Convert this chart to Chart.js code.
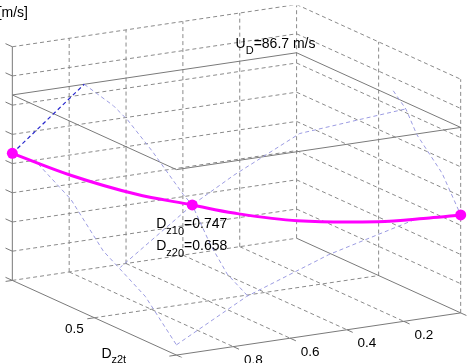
<!DOCTYPE html>
<html><head><meta charset="utf-8">
<script src="https://cdn.jsdelivr.net/npm/chart.js@4.4.0/dist/chart.umd.min.js"></script>
<style>html,body{margin:0;padding:0;background:#fff;overflow:hidden}canvas{display:block}</style>
</head><body>
<canvas id="c" width="474" height="363"></canvas>
<script>
// ---------------- data ----------------
const dz1Ticks = [0, 0.2, 0.4, 0.6, 0.8, 1];
const dz1TickLabels = ['0', '0.2', '0.4', '0.6', '0.8', '1'];
const dz2Ticks = [0, 0.5, 1];
const dz2TickLabels = ['0', '0.5', '1'];
const uTicks = [74, 76, 78, 80, 82, 84, 86, 88, 90];
const uDesign = 86.7;
const optDz1 = 0.747, optDz2 = 0.658;

// magenta optimum path
const pathDz1 = [1, 0.917, 0.827, 0.747, 0.631, 0.454, 0.231, 0.087, 0];
const pathDz2 = [0, 0.216, 0.451, 0.658, 0.711, 0.792, 0.894, 0.960, 1];
const pathU   = [82.7, 82.05, 81.72, 81.8, 81.18, 80.56, 80.37, 80.55, 80.71];

// surface edge Dz2 = 0 (dark blue)
const edgeB0Dz1 = [1, 0.747];
const edgeB0U   = [82.7, 86.7];
// surface edge Dz1 = 1
const edgeA1Dz2 = [0, 0.155, 0.357, 0.554, 0.81, 1];
const edgeA1U   = [82.7, 82.79, 81.37, 78.85, 77.05, 74.7];
// surface edge Dz2 = 1
const edgeB1Dz1 = [1, 0.753, 0.464, 0.155, 0];
const edgeB1U   = [74.7, 77.3, 79.33, 80.89, 80.71];
// surface edge Dz1 = 0
const edgeA0Dz2 = [0.589, 0.667, 0.732, 0.887, 1];
const edgeA0U   = [87.11, 86.24, 84.85, 82.98, 80.71];
// section Dz1 = 0.747
const secADz2 = [0, 0.175, 0.264, 0.413, 0.604, 0.658, 0.77, 0.871, 1];
const secAU   = [86.7, 86.15, 85.61, 84.25, 82.23, 81.8, 79.63, 78.16, 77.27];
// section Dz2 = 0.658
const secBDz1 = [0, 0.163, 0.369, 0.6, 0.747, 1];
const secBU   = [86.2, 85.94, 85.6, 83.42, 81.8, 78.26];

// ---------------- 3D view (projection) ----------------
const VIEW = { ox: 298, oy: 240, ax: -291, ay: 43.5, bx: 168, by: 77, uz: -15.06, u0: 74 };
function P(a, b, u) {
  return { x: VIEW.ox + a * VIEW.ax + b * VIEW.bx, y: VIEW.oy + a * VIEW.ay + b * VIEW.by + (u - VIEW.u0) * VIEW.uz };
}
const uMin = uTicks[0], uMax = uTicks[uTicks.length - 1];

const GRID = '#8a8a8a', AXIS = '#7a7a7a', LIGHTB = '#9c9ce2', DARKB = '#2424cc', MAG = '#ff00ff';
const datasets = [];
function addLine(pts, color, width, dash, order, tension) {
  datasets.push({
    data: pts, showLine: true, pointRadius: 0, pointHoverRadius: 0, borderColor: color,
    borderWidth: width, borderDash: dash || [], fill: false, tension: tension || 0, order: order,
    borderCapStyle: 'butt'
  });
}
const dash = [4, 3];
// back wall Dz2 = 0
dz1Ticks.forEach(a => { if (a < 1) addLine([P(a, 0, uMin), P(a, 0, uMax)], GRID, 1, dash, 6); });
uTicks.forEach(u => addLine([P(1, 0, u), P(0, 0, u)], GRID, 1, dash, 6));
// back wall Dz1 = 0
dz2Ticks.forEach(b => { if (b > 0) addLine([P(0, b, uMin), P(0, b, uMax)], GRID, 1, dash, 6); });
uTicks.forEach(u => { if (u > uMin) addLine([P(0, 0, u), P(0, 1, u)], GRID, 1, dash, 6); });
// floor
dz1Ticks.forEach(a => { if (a > 0 && a < 1) addLine([P(a, 0, uMin), P(a, 1, uMin)], GRID, 1, dash, 6); });
dz2Ticks.forEach(b => { if (b > 0 && b < 1) addLine([P(1, b, uMin), P(0, b, uMin)], GRID, 1, dash, 6); });
// axes (solid)
addLine([P(1, 0, uMin), P(1, 0, uMax)], AXIS, 1, [], 5);
addLine([P(1, 0, uMin), P(1, 1, uMin)], AXIS, 1, [], 5);
addLine([P(1, 1, uMin), P(0, 1, uMin)], AXIS, 1, [], 5);
addLine([P(0, 0, uMin), P(0, 1, uMin)], AXIS, 1, [], 5);
// tick marks
uTicks.forEach(u => addLine([P(1, 0, u), P(1, -0.05, u)], AXIS, 1, [], 5));
dz1Ticks.forEach(a => addLine([P(a, 1, uMin), P(a, 1.035, uMin)], AXIS, 1, [], 5));
dz2Ticks.forEach(b => addLine([P(1, b, uMin), P(1.025, b, uMin)], AXIS, 1, [], 5));
// design speed plane
addLine([P(1, 0, uDesign), P(0, 0, uDesign), P(0, 1, uDesign), P(1, 1, uDesign), P(1, 0, uDesign)], AXIS, 1, [], 4);
// surface edges and sections
addLine(edgeA1Dz2.map((b, i) => P(1, b, edgeA1U[i])), LIGHTB, 1, dash, 3);
addLine(edgeB1Dz1.map((a, i) => P(a, 1, edgeB1U[i])), LIGHTB, 1, dash, 3);
addLine(edgeA0Dz2.map((b, i) => P(0, b, edgeA0U[i])), LIGHTB, 1, dash, 3);
addLine(secADz2.map((b, i) => P(optDz1, b, secAU[i])), LIGHTB, 1, dash, 3);
addLine(secBDz1.map((a, i) => P(a, optDz2, secBU[i])), LIGHTB, 1, dash, 3);
addLine(edgeB0Dz1.map((a, i) => P(a, 0, edgeB0U[i])), DARKB, 1.2, dash, 2);
// magenta path
addLine(pathDz1.map((a, i) => P(a, pathDz2[i], pathU[i])), MAG, 3, [], 1, 0.35);
const markIdx = [0, 3, pathDz1.length - 1];
datasets.push({
  data: markIdx.map(i => P(pathDz1[i], pathDz2[i], pathU[i])), showLine: false,
  pointRadius: 5.5, pointHoverRadius: 5.5, pointBackgroundColor: MAG, pointBorderColor: MAG, pointBorderWidth: 0, order: 0
});

const FONT = '"Liberation Sans", Arial, Helvetica, sans-serif';
function runs(ctx, x, y, parts) {
  ctx.textAlign = 'left'; ctx.textBaseline = 'alphabetic';
  parts.forEach(p => {
    ctx.font = p[1] + 'px ' + FONT;
    ctx.fillText(p[0], x, y + p[2]);
    x += ctx.measureText(p[0]).width;
  });
}
const textPlugin = {
  id: 'texts',
  afterDatasetsDraw(chart) {
    const ctx = chart.ctx, sx = chart.scales.x, sy = chart.scales.y;
    const px = p => ({ x: sx.getPixelForValue(p.x), y: sy.getPixelForValue(p.y) });
    ctx.save();
    ctx.fillStyle = '#000';
    // tick labels (the ones at the hidden front corner fall outside the frame)
    ctx.font = '13.5px ' + FONT; ctx.textAlign = 'center'; ctx.textBaseline = 'middle';
    dz1Ticks.forEach((a, i) => { if (a < 1) { const q = px(P(a, 1, uMin)); ctx.fillText(dz1TickLabels[i], q.x + 20, q.y + 14); } });
    dz2Ticks.forEach((b, i) => { if (b < 1) { const q = px(P(1, b, uMin)); ctx.fillText(dz2TickLabels[i], q.x - 20, q.y + 11.5); } });
    // z label (cropped)
    ctx.font = '14px ' + FONT; ctx.textAlign = 'right'; ctx.textBaseline = 'alphabetic';
    ctx.fillText('[m/s]', 28, 17);
    // axis label Dz2
    const qb = px(P(1, 0.5, uMin));
    runs(ctx, qb.x + 7, qb.y + 40, [['D', 14, 0], ['z2t', 11, 5]]);
    // design speed text
    const qd = px(P(0, 0, uDesign));
    runs(ctx, qd.x - 61, qd.y - 5, [['U', 14, 0], ['D', 11, 6], ['=86.7 m/s', 14, 0]]);
    // optimum labels
    const qo = px(P(optDz1, optDz2, pathU[3]));
    runs(ctx, qo.x - 36, qo.y + 23, [['D', 14, 0], ['z1', 11, 6], ['0', 11, 7], ['=' + optDz1.toFixed(3), 14, 0]]);
    runs(ctx, qo.x - 36, qo.y + 45, [['D', 14, 0], ['z2', 11, 6], ['0', 11, 7], ['=' + optDz2.toFixed(3), 14, 0]]);
    ctx.restore();
  }
};

new Chart(document.getElementById('c'), {
  type: 'scatter',
  data: { datasets },
  options: {
    responsive: false, maintainAspectRatio: false, animation: false,
    layout: { padding: 0 },
    plugins: { legend: { display: false }, tooltip: { enabled: false } },
    events: [],
    scales: {
      x: { type: 'linear', display: false, min: 0, max: 474 },
      y: { type: 'linear', display: false, min: 0, max: 363, reverse: true }
    }
  },
  plugins: [textPlugin]
});
</script>
</body></html>
